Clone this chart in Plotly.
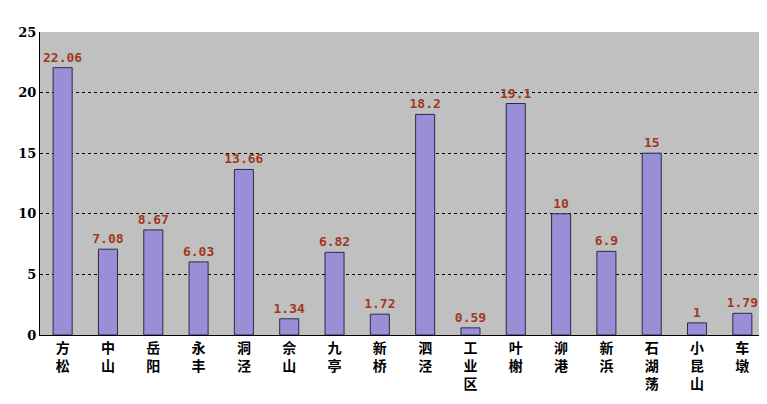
import plotly.graph_objects as go

categories = ["方松", "中山", "岳阳", "永丰", "洞泾", "佘山", "九亭", "新桥", "泗泾",
              "工业区", "叶榭", "泖港", "新浜", "石湖荡", "小昆山", "车墩"]
values = [22.06, 7.08, 8.67, 6.03, 13.66, 1.34, 6.82, 1.72, 18.2,
          0.59, 19.1, 10, 6.9, 15, 1, 1.79]
value_labels = ["22.06", "7.08", "8.67", "6.03", "13.66", "1.34", "6.82", "1.72", "18.2",
                "0.59", "19.1", "10", "6.9", "15", "1", "1.79"]

tick_text = ["<b>" + "<br>".join(c) + "</b>" for c in categories]

fig = go.Figure(go.Bar(
    x=list(range(len(categories))), y=values,
    text=["<b>" + t + "</b>" for t in value_labels],
    textposition="outside", cliponaxis=False, constraintext="none",
    textfont=dict(color="#a0391c", size=13, family="DejaVu Sans Mono, monospace"),
    marker=dict(color="#9a8fd6", line=dict(color="#2a2a4a", width=1)),
))
fig.update_layout(
    width=767, height=404, margin=dict(l=32, r=10, t=24, b=77),
    plot_bgcolor="#c0c0c0", paper_bgcolor="white", bargap=0.58,
    showlegend=False,
    font=dict(family="Noto Sans CJK SC", color="black", size=13),
)
fig.update_xaxes(
    tickvals=list(range(len(categories))), ticktext=tick_text,
    range=[-0.5, len(categories) - 0.5],
    showline=True, linecolor="black", linewidth=1, mirror=False,
    showgrid=False, ticks="", tickfont=dict(size=14, family="Noto Sans CJK SC"),
)
fig.update_yaxes(
    range=[0, 25], dtick=5, showline=True, linecolor="black", linewidth=1,
    gridcolor="black", griddash="dot", gridwidth=1, zeroline=False,
    tickprefix="<b>", ticksuffix="</b>",
    tickfont=dict(size=13, family="DejaVu Serif"), ticks="",
)
fig.write_html("out.html")
